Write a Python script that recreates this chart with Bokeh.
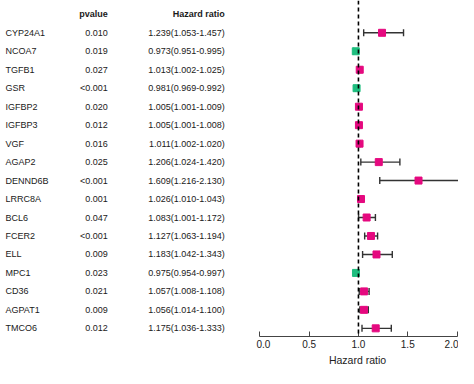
from bokeh.plotting import figure
from bokeh.layouts import row
from bokeh.models import (ColumnDataSource, Range1d, LinearAxis, FixedTicker,
                          Span, Whisker, TeeHead, NumeralTickFormatter)
from bokeh.core.properties import value
from bokeh.embed import file_html
from bokeh.resources import INLINE

genes = ["CYP24A1", "NCOA7", "TGFB1", "GSR", "IGFBP2", "IGFBP3", "VGF", "AGAP2",
         "DENND6B", "LRRC8A", "BCL6", "FCER2", "ELL", "MPC1", "CD36", "AGPAT1", "TMCO6"]
pvalues = ["0.010", "0.019", "0.027", "<0.001", "0.020", "0.012", "0.016", "0.025",
           "<0.001", "0.001", "0.047", "<0.001", "0.009", "0.023", "0.021", "0.009", "0.012"]
hr = [1.239, 0.973, 1.013, 0.981, 1.005, 1.005, 1.011, 1.206,
      1.609, 1.026, 1.083, 1.127, 1.183, 0.975, 1.057, 1.056, 1.175]
lower = [1.053, 0.951, 1.002, 0.969, 1.001, 1.001, 1.002, 1.024,
         1.216, 1.010, 1.001, 1.063, 1.042, 0.954, 1.008, 1.014, 1.036]
upper = [1.457, 0.995, 1.025, 0.992, 1.009, 1.008, 1.020, 1.420,
         2.130, 1.043, 1.172, 1.194, 1.343, 0.997, 1.108, 1.100, 1.333]
x_ticks = [0.0, 0.5, 1.0, 1.5, 2.0]

PINK = "#E5097F"
GREEN = "#1DBE7E"
FONT = "Liberation Sans"
TXT = "#1a1a1a"

H = 368
WL = 256               # left (table) figure width
WR = 202               # right (forest) figure width
x0_px = 259.3          # page pixel of HR=0
ppu = 98.65            # pixels per HR unit
row0_px = 32.5         # first row pixel from top
row_h = 18.58
bottom_border = 30
frame_bottom = H - bottom_border

def px_to_y(px):
    return (px - row0_px) / row_h

n = len(genes)
rows = list(range(n))
hr_text = ["%.3f(%.3f-%.3f)" % (h, l, u) for h, l, u in zip(hr, lower, upper)]
colors = [PINK if h >= 1 else GREEN for h in hr]

# ---------------- left: table ----------------
tsrc = ColumnDataSource(dict(y=rows, gene=genes, p=pvalues, hrt=hr_text))
pl = figure(width=WL, height=H, output_backend="svg", toolbar_location=None,
            x_range=Range1d(0, WL), y_range=Range1d(px_to_y(frame_bottom), px_to_y(0)),
            x_axis_type=None, y_axis_type=None,
            min_border_left=0, min_border_right=0, min_border_top=0,
            min_border_bottom=bottom_border)
pl.outline_line_color = None
pl.xgrid.visible = False
pl.ygrid.visible = False

pl.text(x=5, y="y", text="gene", source=tsrc, text_font=value(FONT),
        text_font_size="9px", text_baseline="middle", text_align="left", text_color=TXT)
pl.text(x=107.3, y="y", text="p", source=tsrc, text_font=value(FONT),
        text_font_size="9px", text_baseline="middle", text_align="right", text_color=TXT)
pl.text(x=224.3, y="y", text="hrt", source=tsrc, text_font=value(FONT),
        text_font_size="9px", text_baseline="middle", text_align="right", text_color=TXT)
pl.text(x=[107.3, 224.3], y=[-1, -1], text=["pvalue", "Hazard ratio"],
        text_font=value(FONT), text_font_size="9px", text_font_style="bold",
        text_baseline="middle", text_align="right", text_color=TXT)

# ---------------- right: forest ----------------
src = ColumnDataSource(dict(y=rows, hr=hr, lo=lower, up=upper, c=colors))
pr = figure(width=WR, height=H, output_backend="svg", toolbar_location=None,
            x_range=Range1d((WL - x0_px) / ppu, (WL + WR - x0_px) / ppu),
            y_range=Range1d(px_to_y(frame_bottom), px_to_y(0)),
            x_axis_type=None, y_axis_type=None,
            min_border_left=0, min_border_right=0, min_border_top=0,
            min_border_bottom=bottom_border)
pr.outline_line_color = None
pr.xgrid.visible = False
pr.ygrid.visible = False

pr.add_layout(Span(location=1.0, dimension="height", line_color="black",
                   line_dash="4 3", line_width=1.6))

wh = Whisker(base="y", lower="lo", upper="up", dimension="width", source=src,
             line_color="#333333", line_width=1.4,
             lower_head=TeeHead(size=7, line_color="#333333", line_width=1.4),
             upper_head=TeeHead(size=7, line_color="#333333", line_width=1.4))
pr.add_layout(wh)

pr.scatter(x="hr", y="y", source=src, marker="square", size=7,
           fill_color="c", line_color="c")

ax = LinearAxis(ticker=FixedTicker(ticks=x_ticks), bounds=(0, 2),
                formatter=NumeralTickFormatter(format="0.0"),
                axis_label="Hazard ratio")
ax.major_tick_in = 5
ax.major_tick_out = 0
ax.minor_tick_in = 0
ax.minor_tick_out = 0
ax.major_label_standoff = 3
ax.axis_label_standoff = 3
ax.major_label_text_font = FONT
ax.major_label_text_font_size = "10px"
ax.major_label_text_color = "#222222"
ax.axis_label_text_font = FONT
ax.axis_label_text_font_size = "10.5px"
ax.axis_label_text_font_style = "normal"
ax.axis_label_text_color = "#222222"
ax.axis_line_color = "#444444"
ax.major_tick_line_color = "#444444"
pr.add_layout(ax, "below")

layout = row(pl, pr)
open("out.html", "w").write(file_html(layout, INLINE))
